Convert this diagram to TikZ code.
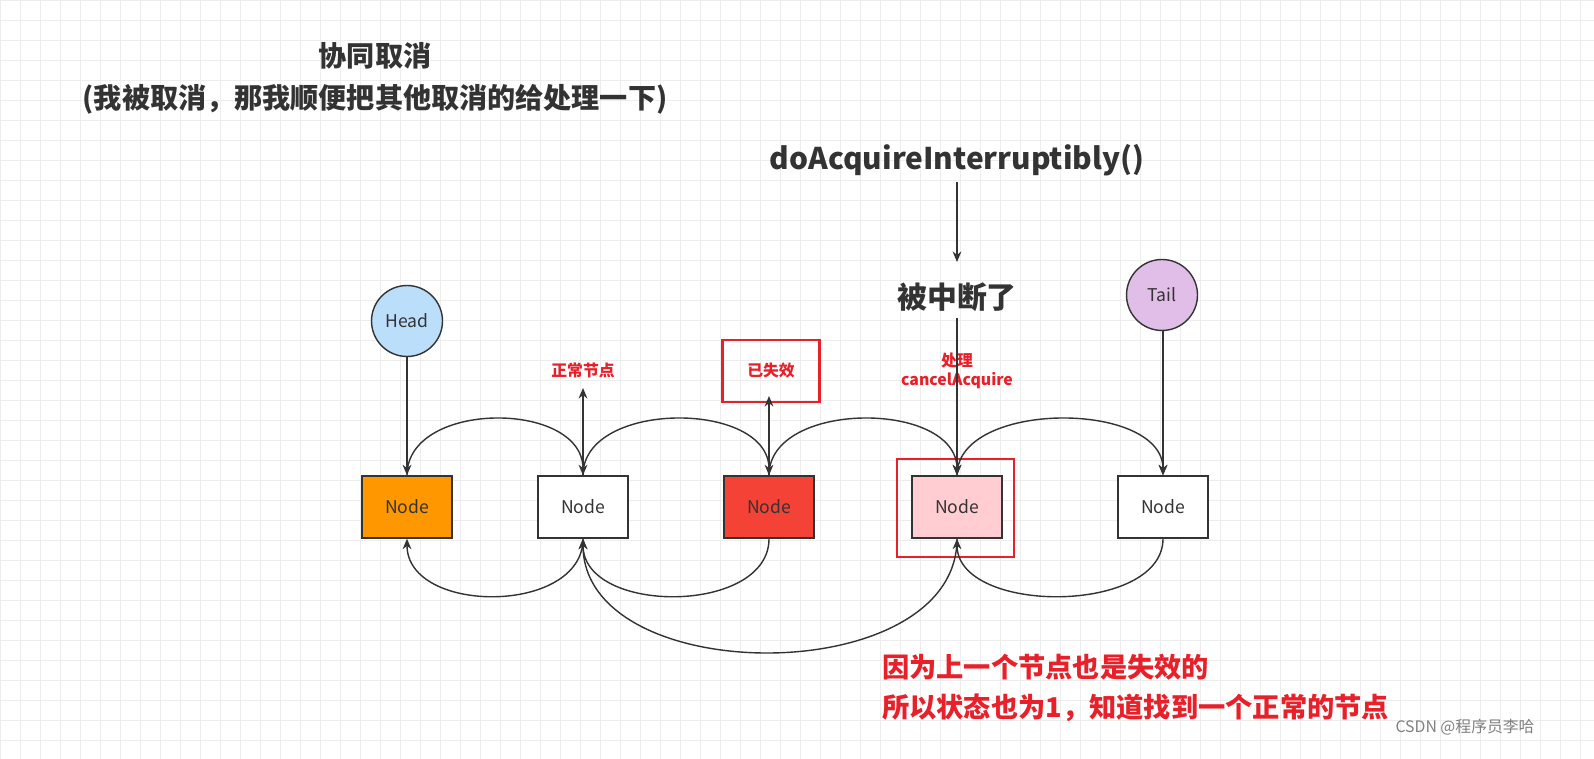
\documentclass[tikz,border=0pt]{standalone}
\usepackage{fontspec}
\setmainfont{Noto Sans CJK SC}
\usetikzlibrary{arrows.meta}
\definecolor{cor}{HTML}{FF9800}
\definecolor{cred}{HTML}{F44336}
\definecolor{cpink}{HTML}{FFCDD2}
\definecolor{cblue}{HTML}{BBDEFB}
\definecolor{cvio}{HTML}{E1BEE7}
\definecolor{cr}{HTML}{E8202A}
\begin{document}
\begin{tikzpicture}[x=0.02cm,y=-0.02cm,
  ln/.style={draw=black!80,line width=0.8pt},
  ar/.style={ln,-{Stealth[length=6pt,width=5pt]}},
  box/.style={draw=black!80,line width=0.8pt,minimum width=1.8cm,minimum height=1.24cm,font=\fontsize{10}{12}\selectfont,text=black!80},
  circ/.style={draw=black!80,line width=0.8pt,circle,minimum size=1.42cm,font=\fontsize{10}{12}\selectfont,text=black!80},
  red/.style={text=cr,font=\bfseries\fontsize{9}{11}\selectfont,align=center},
  big/.style={text=black!80,font=\bfseries\fontsize{17}{20}\selectfont},
  hl/.style={draw=cr,line width=1.6pt}]
\fill[white] (0,0) rectangle (1594,759);
\foreach \i in {0,20,...,1580} \draw[black!7,line width=0.3pt] (\i,0) -- (\i,759);
\foreach \j in {0,20,...,750} \draw[black!7,line width=0.3pt] (0,\j) -- (1594,\j);
\node[text=black!80,font=\bfseries\fontsize{16}{24}\selectfont,align=center] (t) at (375,78) {协同取消\\(我被取消，那我顺便把其他取消的给处理一下)};
\node[big] (da) at (957,160) {doAcquireInterruptibly()};
\node[big] (zd) at (957,297) {被中断了};
\node[circ,fill=cblue] (head) at (407,321) {Head};
\node[circ,fill=cvio] (tail) at (1162,295) {Tail};
\node[box,fill=cor] (n1) at (407,507) {Node};
\node[box,fill=white] (n2) at (583,507) {Node};
\node[box,fill=cred] (n3) at (769,507) {Node};
\node[box,fill=cpink] (n4) at (957,507) {Node};
\node[box,fill=white] (n5) at (1163,507) {Node};
\node[red] (l2) at (583,370) {正常节点};
\node[red,hl,minimum width=1.94cm,minimum height=1.24cm] (l3) at (771,371) {已失效};
\node[red,inner sep=0pt] (l4) at (957,371) {处理\\cancelAcquire};
\draw[hl] (897,459) rectangle (1014,557);
\draw[ar] (da) -- (957,262);
\draw[ar] (zd.south) -- (n4.north);
\draw[ar] (head) -- (n1.north);
\draw[ar] (1163,331) -- (n5.north);
\draw[ar] (n2.north) -- (583,388);
\draw[ar] (n3.north) -- (769,396);
\draw[ar] (n1.north) .. controls (407,400) and (583,400) .. (n2.north);
\draw[ar] (n2.north) .. controls (583,400) and (769,400) .. (n3.north);
\draw[ar] (n3.north) .. controls (769,400) and (957,400) .. (n4.north);
\draw[ar] (n4.north) .. controls (957,400) and (1163,400) .. (n5.north);
\draw[ar] (n2.south) .. controls (583,615) and (407,615) .. (n1.south);
\draw[ar] (n3.south) .. controls (769,615) and (583,615) .. (n2.south);
\draw[ar] (n5.south) .. controls (1163,615) and (957,615) .. (n4.south);
\draw[ar] (n4.south) .. controls (957,690) and (583,690) .. (n2.south);
\node[anchor=west,text=cr,font=\bfseries\fontsize{15.5}{23}\selectfont,align=left] (b) at (876,688) {因为上一个节点也是失效的\\所以状态也为1，知道找到一个正常的节点};
\node[text=black!50,font=\fontsize{9}{11}\selectfont] (wm) at (1465,727) {CSDN @程序员李哈};
\pgfresetboundingbox
\path[use as bounding box] (0,0) rectangle (1594,759);
\end{tikzpicture}
\end{document}
